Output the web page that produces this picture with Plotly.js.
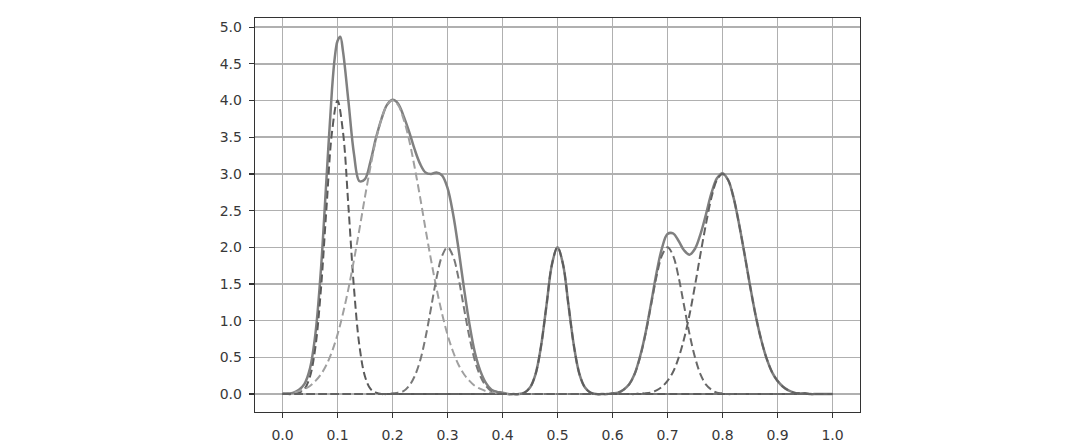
<!DOCTYPE html>
<html>
<head>
<meta charset="utf-8">
<script src="https://cdn.plot.ly/plotly-3.0.1.min.js"></script>
<style>html,body{margin:0;padding:0;background:#fff;}#chart{width:1080px;height:444px;}</style>
</head>
<body>
<div id="chart"></div>
<script>
// x grid for the total curve (extra samples around the sharp 0.1 peak)
const xGrid = [
  0.00,0.01,0.02,0.03,0.04,0.05,0.06,0.07,0.08,0.09,0.095,
  0.10,0.105,0.11,0.12,0.13,0.14,0.15,0.16,0.17,0.18,0.19,
  0.20,0.21,0.22,0.23,0.24,0.25,0.26,0.27,0.28,0.29,
  0.30,0.31,0.32,0.33,0.34,0.35,0.36,0.37,0.38,0.39,
  0.40,0.41,0.42,0.43,0.44,0.45,0.46,0.47,0.48,0.49,
  0.50,0.51,0.52,0.53,0.54,0.55,0.56,0.57,0.58,0.59,
  0.60,0.61,0.62,0.63,0.64,0.65,0.66,0.67,0.68,0.69,
  0.70,0.71,0.72,0.73,0.74,0.75,0.76,0.77,0.78,0.79,
  0.80,0.81,0.82,0.83,0.84,0.85,0.86,0.87,0.88,0.89,
  0.90,0.91,0.92,0.93,0.94,0.95,0.96,0.97,0.98,0.99,
  1.00
];
// total (solid) curve
const totalY = [
  0.01,0.01,0.02,0.06,0.14,0.35,0.83,1.71,2.94,4.15,4.58,
  4.81,4.87,4.67,3.98,3.27,2.90,2.93,3.17,3.49,3.75,3.94,
  4.01,3.96,3.79,3.58,3.34,3.14,3.02,3.00,3.02,2.98,
  2.81,2.46,1.98,1.44,0.95,0.56,0.31,0.15,0.06,0.03,
  0.02,0,0,0,0.02,0.09,0.27,0.65,1.21,1.77,
  2.00,1.77,1.21,0.65,0.27,0.09,0.02,0,0,0,
  0.01,0.02,0.06,0.13,0.27,0.51,0.83,1.23,1.65,1.99,
  2.18,2.19,2.09,1.96,1.90,1.98,2.18,2.45,2.74,2.94,
  3.01,2.92,2.68,2.32,1.91,1.48,1.08,0.75,0.49,0.30,
  0.18,0.10,0.05,0.02,0.01,0.01,0,0,0,0,
  0
];
// component peaks (dashed)
const peak1X = [0,0.01,0.02,0.03,0.04,0.05,0.06,0.07,0.08,0.09,0.10,0.11,0.12,0.13,0.14,0.15,0.16,0.17,0.18,0.19,1];
const peak1Y = [0,0,0,0.02,0.07,0.24,0.65,1.44,2.54,3.57,4.00,3.57,2.54,1.44,0.65,0.24,0.07,0.02,0,0,0];

const peak2X = [0.00,0.01,0.02,0.03,0.04,0.05,0.06,0.07,0.08,0.09,
  0.10,0.11,0.12,0.13,0.14,0.15,0.16,0.17,0.18,0.19,
  0.20,0.21,0.22,0.23,0.24,0.25,0.26,0.27,0.28,0.29,
  0.30,0.31,0.32,0.33,0.34,0.35,0.36,0.37,0.38,0.39,
  0.40,0.41,0.42,1];
const peak2Y = [0.01,0.01,0.02,0.04,0.07,0.11,0.18,0.27,0.40,0.58,
  0.81,1.10,1.44,1.83,2.25,2.69,3.10,3.47,3.75,3.94,
  4.00,3.94,3.75,3.47,3.10,2.69,2.25,1.83,1.44,1.10,
  0.81,0.58,0.40,0.27,0.18,0.11,0.07,0.04,0.02,0.01,
  0.01,0,0,0];

const peak3X = [0,0.18,0.19,0.20,0.21,0.22,0.23,0.24,0.25,0.26,0.27,0.28,0.29,0.30,0.31,0.32,0.33,0.34,0.35,0.36,0.37,0.38,0.39,0.40,0.41,0.42,1];
const peak3Y = [0,0,0,0.01,0.02,0.04,0.11,0.24,0.45,0.77,1.17,1.58,1.88,2.00,1.88,1.58,1.17,0.77,0.45,0.24,0.11,0.04,0.02,0.01,0,0,0];

const peak4X = [0,0.42,0.43,0.44,0.45,0.46,0.47,0.48,0.49,0.50,0.51,0.52,0.53,0.54,0.55,0.56,0.57,0.58,1];
const peak4Y = [0,0,0,0.02,0.09,0.27,0.65,1.21,1.77,2.00,1.77,1.21,0.65,0.27,0.09,0.02,0,0,0];

const peak5X = [0,0.58,0.59,0.60,0.61,0.62,0.63,0.64,0.65,0.66,0.67,0.68,0.69,0.70,0.71,0.72,0.73,0.74,0.75,0.76,0.77,0.78,0.79,0.80,0.81,0.82,1];
const peak5Y = [0,0,0,0.01,0.02,0.06,0.13,0.27,0.50,0.82,1.21,1.60,1.89,2.00,1.89,1.60,1.21,0.82,0.50,0.27,0.13,0.06,0.02,0.01,0,0,0];

const peak6X = [0,0.63,0.64,0.65,0.66,0.67,0.68,0.69,0.70,0.71,0.72,0.73,0.74,0.75,0.76,0.77,0.78,0.79,0.80,
  0.81,0.82,0.83,0.84,0.85,0.86,0.87,0.88,0.89,0.90,0.91,0.92,0.93,0.94,0.95,0.96,0.97,1];
const peak6Y = [0,0,0,0.01,0.01,0.02,0.05,0.10,0.18,0.30,0.49,0.75,1.08,1.48,1.91,2.32,2.68,2.92,3.00,
  2.92,2.68,2.32,1.91,1.48,1.08,0.75,0.49,0.30,0.18,0.10,0.05,0.02,0.01,0.01,0,0,0];

const xTicks = [0,0.1,0.2,0.3,0.4,0.5,0.6,0.7,0.8,0.9,1.0];
const yTicks = [0,0.5,1,1.5,2,2.5,3,3.5,4,4.5,5];

const peaks = [
  {x: peak1X, y: peak1Y, color: '#5a5a5a'},
  {x: peak2X, y: peak2Y, color: '#a0a0a0'},
  {x: peak3X, y: peak3Y, color: '#787878'},
  {x: peak4X, y: peak4Y, color: '#5c5c5c'},
  {x: peak5X, y: peak5Y, color: '#6a6a6a'},
  {x: peak6X, y: peak6Y, color: '#626262'}
];

const traces = [];
traces.push({
  x: xGrid, y: totalY, type: 'scatter', mode: 'lines',
  line: {color: '#808080', width: 2.5, shape: 'spline', smoothing: 1},
  hoverinfo: 'skip'
});
peaks.forEach(p => traces.push({
  x: p.x, y: p.y, type: 'scatter', mode: 'lines',
  line: {color: p.color, width: 2, dash: '8px,4px', shape: 'spline', smoothing: 1},
  hoverinfo: 'skip'
}));

const axisCommon = {
  showgrid: true, gridcolor: '#b0b0b0', gridwidth: 1.5,
  showline: true, mirror: true, linecolor: '#333333', linewidth: 1.3,
  ticks: 'outside', ticklen: 5, tickwidth: 1.2, tickcolor: '#333333',
  zeroline: false, tickformat: '.1f',
  tickfont: {family: 'DejaVu Sans', size: 14, color: '#383838'}
};

const layout = {
  width: 1080, height: 444,
  margin: {l: 255, r: 220, t: 18, b: 32, pad: 0},
  paper_bgcolor: '#ffffff', plot_bgcolor: '#ffffff',
  showlegend: false,
  xaxis: Object.assign({}, axisCommon, {range: [-0.05, 1.05], tickvals: xTicks, ticklabelstandoff: 5}),
  yaxis: Object.assign({}, axisCommon, {range: [-0.244, 5.124], tickvals: yTicks, ticklabelstandoff: 4})
};

Plotly.newPlot('chart', traces, layout, {staticPlot: true, displayModeBar: false});
</script>
</body>
</html>
